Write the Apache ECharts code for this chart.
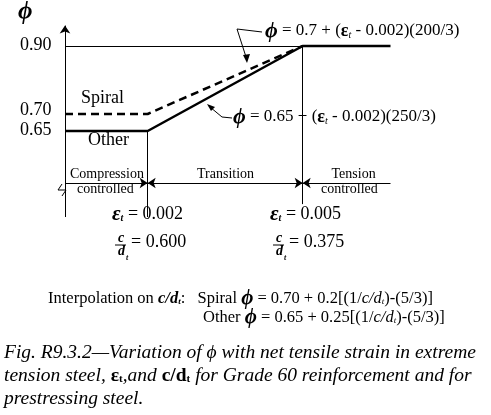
<!DOCTYPE html>
<html><head><meta charset="utf-8">
<script src="https://cdn.jsdelivr.net/npm/echarts@6/dist/echarts.min.js"></script>
<style>html,body{margin:0;padding:0;background:#fff}#c{width:491px;height:415px}</style>
</head><body><div id="c"></div>
<script>
var strainOther = [0.0004, 0.002, 0.005, 0.0067];
var phiOther = [0.65, 0.65, 0.90, 0.90];
var strainSpiral = [0.0004, 0.002, 0.005];
var phiSpiral = [0.70, 0.70, 0.90];
var yTicks = [0.65, 0.70, 0.90];
var limits = [0.002, 0.005];

var F = 'Liberation Serif';
var chart = echarts.init(document.getElementById('c'));
function pts(xs, ys){return xs.map(function(x,i){return [x, ys[i]];});}
var ml = function(a,b,w,sym){return [{coord:a, symbol: sym?sym[0]:'none'},{coord:b, symbol: sym?sym[1]:'none'}];};
chart.setOption({
  animation:false,
  grid:{left:65,right:100.5,top:12,bottom:165},
  xAxis:{type:'value',min:0.0004,max:0.0067,show:false},
  yAxis:{type:'value',min:0.3,max:1.0,show:false},
  series:[
    {type:'line',data:pts(strainOther,phiOther),symbol:'none',lineStyle:{color:'#000',width:2.5},
     markLine:{silent:true,symbolSize:8,label:{show:false},lineStyle:{color:'#000',width:1,type:'solid'},data:[
       ml([0.0004,0.397],[0.0004,0.96],1,['none','arrow']),
       ml([0.0004,0.90],[0.005,0.90]),
       ml([limits[0],0.65],[limits[0],0.397]),
       ml([limits[1],0.90],[limits[1],0.435]),
       ml([0.0004,0.497],[limits[0],0.497],1,['none','arrow']),
       ml([limits[0],0.497],[limits[1],0.497],1,['arrow','arrow']),
       ml([0.0067,0.497],[limits[1],0.497],1,['none','arrow']),
       [{coord:[0.0004,0.459],symbol:'none',lineStyle:{width:2}},{coord:[0.0068,0.459],symbol:'arrow'}]
     ]}},
    {type:'line',data:pts(strainSpiral,phiSpiral),symbol:'none',lineStyle:{color:'#000',width:2.5,type:[8,5]}}
  ],
  graphic:[
    {type:'text',left:18,top:0,style:{text:'ϕ',font:'italic bold 25px '+F,fill:'#000'}},
    {type:'text',left:20,top:36,style:{text:'0.90',font:'18px '+F,fill:'#000'}},
    {type:'text',left:20,top:101,style:{text:'0.70',font:'18px '+F,fill:'#000'}},
    {type:'text',left:20,top:121,style:{text:'0.65',font:'18px '+F,fill:'#000'}},
    {type:'text',left:81,top:89,style:{text:'Spiral',font:'18px '+F,fill:'#000'}},
    {type:'text',left:88,top:131,style:{text:'Other',font:'18px '+F,fill:'#000'}},
    {type:'text',left:70,top:167,style:{text:'Compression\n  controlled',font:'14px '+F,lineHeight:15,fill:'#000'}},
    {type:'text',left:197,top:167,style:{text:'Transition',font:'14px '+F,fill:'#000'}},
    {type:'text',left:321,top:167,style:{text:'   Tension\ncontrolled',font:'14px '+F,lineHeight:15,fill:'#000'}},
    {type:'polyline',shape:{points:[[62,184],[58,190],[66,190],[62,196]]},style:{stroke:'#000',lineWidth:1,fill:null}},
    {type:'polyline',shape:{points:[[262,32],[237,29],[247,60]]},style:{stroke:'#000',lineWidth:1,fill:null}},
    {type:'polygon',shape:{points:[[247,63],[243,55],[250,54]]},style:{fill:'#000'}},
    {type:'text',left:265,top:20,style:{text:'{p|ϕ} = 0.7 + ({e|ε}{s|t} - 0.002)(200/3)',font:'17px '+F,fill:'#000',
      rich:{p:{font:'italic bold 22px '+F},e:{font:'bold 18px '+F},s:{font:'italic 10px '+F,padding:[8,0,0,0]}}}},
    {type:'polyline',shape:{points:[[232,118],[222,117],[210,107]]},style:{stroke:'#000',lineWidth:1,fill:null}},
    {type:'polygon',shape:{points:[[207,104],[215,107],[211,111]]},style:{fill:'#000'}},
    {type:'text',left:233,top:106,style:{text:'{p|ϕ} = 0.65 + ({e|ε}{s|t} - 0.002)(250/3)',font:'17px '+F,fill:'#000',backgroundColor:'#fff',
      rich:{p:{font:'italic bold 22px '+F},e:{font:'bold 18px '+F},s:{font:'italic 10px '+F,padding:[8,0,0,0]}}}},
    {type:'text',left:112,top:204,style:{text:'{e|ε}{s|t} = 0.002',font:'18px '+F,fill:'#000',
      rich:{e:{font:'italic bold 21px '+F},s:{font:'italic bold 10px '+F,padding:[8,0,0,0]}}}},
    {type:'text',left:270,top:204,style:{text:'{e|ε}{s|t} = 0.005',font:'18px '+F,fill:'#000',
      rich:{e:{font:'italic bold 21px '+F},s:{font:'italic bold 10px '+F,padding:[8,0,0,0]}}}},
    {type:'text',left:118,top:231,style:{text:'c\nd',font:'italic bold 14px '+F,lineHeight:13,fill:'#000',align:'center'}},
    {type:'line',shape:{x1:115,y1:245,x2:126,y2:245},style:{stroke:'#000',lineWidth:1}},
    {type:'text',left:126,top:254,style:{text:'t',font:'italic bold 8px '+F,fill:'#000'}},
    {type:'text',left:131,top:233,style:{text:'= 0.600',font:'18px '+F,fill:'#000'}},
    {type:'text',left:276,top:231,style:{text:'c\nd',font:'italic bold 14px '+F,lineHeight:13,fill:'#000',align:'center'}},
    {type:'line',shape:{x1:273,y1:245,x2:284,y2:245},style:{stroke:'#000',lineWidth:1}},
    {type:'text',left:284,top:254,style:{text:'t',font:'italic bold 8px '+F,fill:'#000'}},
    {type:'text',left:289,top:233,style:{text:'= 0.375',font:'18px '+F,fill:'#000'}},
    {type:'text',left:48,top:288,style:{text:'Interpolation on {b|c/d}{bs|t}:   Spiral {p|ϕ} = 0.70 + 0.2[(1/{i|c/d}{is|t})-(5/3)]',font:'16.5px '+F,fill:'#000',
      rich:{b:{font:'italic bold 16.5px '+F},bs:{font:'italic bold 9px '+F,padding:[6,0,0,0]},p:{font:'italic bold 21px '+F},i:{font:'italic 16.5px '+F},is:{font:'italic 9px '+F,padding:[6,0,0,0]}}}},
    {type:'text',left:203,top:307,style:{text:'Other {p|ϕ} = 0.65 + 0.25[(1/{i|c/d}{is|t})-(5/3)]',font:'16.5px '+F,fill:'#000',
      rich:{p:{font:'italic bold 21px '+F},i:{font:'italic 16.5px '+F},is:{font:'italic 9px '+F,padding:[6,0,0,0]}}}},
    {type:'text',left:4,top:341,style:{text:'Fig. R9.3.2—Variation of ϕ with net tensile strain in extreme\ntension steel, {b|ε}{bs|t},and {b|c/d}{bs|t} for Grade 60 reinforcement and for\nprestressing steel.',
      font:'italic 19.5px '+F,lineHeight:23,fill:'#000',
      rich:{b:{font:'bold 19.5px '+F},bs:{font:'bold 11px '+F,padding:[8,0,0,0]}}}}
  ]
});
</script></body></html>
